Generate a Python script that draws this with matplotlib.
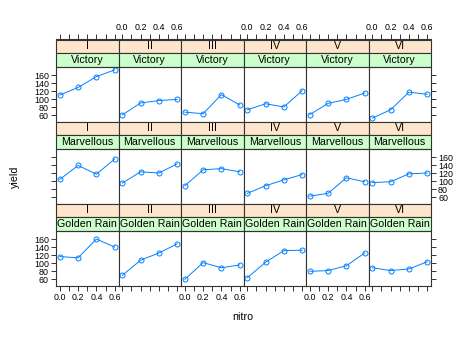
import numpy as np
import matplotlib
matplotlib.use('Agg')
import matplotlib.pyplot as plt
from matplotlib.patches import Rectangle

plt.rcParams['font.family'] = ['Liberation Sans', 'DejaVu Sans']

# Oats data: yield ~ nitro | Block * Variety
nitro = [0.0, 0.2, 0.4, 0.6]
blocks = ['I', 'II', 'III', 'IV', 'V', 'VI']
varieties = ['Victory', 'Marvellous', 'Golden Rain']

victory = [[111, 130, 157, 174], [61, 91, 97, 100], [68, 64, 112, 86],
           [74, 89, 81, 122], [62, 90, 100, 116], [53, 74, 118, 113]]
marvellous = [[105, 140, 118, 156], [96, 124, 121, 144], [89, 129, 132, 124],
              [70, 89, 104, 117], [63, 70, 109, 99], [97, 99, 119, 121]]
golden_rain = [[117, 114, 161, 141], [70, 108, 126, 149], [60, 102, 89, 96],
               [64, 103, 132, 133], [80, 82, 94, 126], [89, 82, 86, 104]]
yields = {'Victory': victory, 'Marvellous': marvellous, 'Golden Rain': golden_rain}

W, H = 474, 338
fig = plt.figure(figsize=(W / 100, H / 100), dpi=100)

left0, colw = 56.0, 62.5
top0, rowh, striph = 39.5, 82.0, 13.5
panelh = rowh - 2 * striph

xlo, xhi = 0 - 0.042, 0.6 + 0.042
allv = [v for var in varieties for blk in yields[var] for v in blk]
ypad = 0.07 * (max(allv) - min(allv))
ylo, yhi = min(allv) - ypad, max(allv) + ypad

tick_fs = 6.4
strip_fs = 7.7
ink = '#333333'
xmaj = [0.0, 0.2, 0.4, 0.6]
xmin = [0.1, 0.3, 0.5]
xlab = ['0.0', '0.2', '0.4', '0.6']

for r, var in enumerate(varieties):
    for c, blk in enumerate(blocks):
        ptop = top0 + r * rowh + 2 * striph
        ax = fig.add_axes([(left0 + c * colw) / W, 1 - (ptop + panelh) / H,
                           colw / W, panelh / H])
        ax.plot(nitro, yields[var][c], color='#0080ff', lw=0.7,
                marker='o', mfc='none', mec='#0080ff', ms=3.6, mew=0.7)
        ax.set_xlim(xlo, xhi)
        ax.set_ylim(ylo, yhi)
        for s in ax.spines.values():
            s.set_color(ink)
            s.set_linewidth(0.8)

        # strips
        sh = striph / panelh
        ax.add_patch(Rectangle((0, 1 + sh), 1, sh, transform=ax.transAxes,
                               fc='#ffe5cc', ec=ink, lw=0.8, clip_on=False))
        ax.add_patch(Rectangle((0, 1), 1, sh, transform=ax.transAxes,
                               fc='#ccffcc', ec=ink, lw=0.8, clip_on=False))
        ax.text(0.5, 1 + 1.5 * sh, blk, transform=ax.transAxes, ha='center',
                va='center', fontsize=strip_fs)
        ax.text(0.5, 1 + 0.5 * sh, var, transform=ax.transAxes, ha='center',
                va='center', fontsize=strip_fs)

        # ticks
        ax.set_xticks(xmaj)
        ax.set_xticks(xmin, minor=True)
        ax.set_xticklabels(xlab)
        ax.set_yticks([60, 80, 100, 120, 140, 160])
        ax.tick_params(which='both', direction='out', length=3.6, width=0.7,
                       color=ink, labelsize=tick_fs, pad=1.5,
                       top=False, bottom=(r == 2),
                       left=(c == 0), right=(c == 5),
                       labeltop=False,
                       labelbottom=(r == 2 and c % 2 == 0),
                       labelleft=(c == 0 and r != 1),
                       labelright=(c == 5 and r == 1))
        ax.tick_params(axis='y', which='minor', left=False, right=False)

        if r == 0:
            sec = ax.secondary_xaxis(1 + 2 * sh)
            sec.set_xticks(xmaj)
            sec.set_xticks(xmin, minor=True)
            sec.set_xticklabels(xlab if c % 2 == 1 else [''] * 4)
            sec.tick_params(which='both', direction='out', length=3.6,
                            width=0.7, color=ink, labelsize=tick_fs, pad=1.5)
            sec.spines['top'].set_color(ink)
            sec.spines['top'].set_linewidth(0.8)

fig.text(15 / W, 1 - 177 / H, 'yield', rotation=90, ha='center', va='center',
         fontsize=strip_fs)
fig.text(243 / W, 1 - 317 / H, 'nitro', ha='center', va='center',
         fontsize=strip_fs)

fig.savefig('out.png', dpi=100)
